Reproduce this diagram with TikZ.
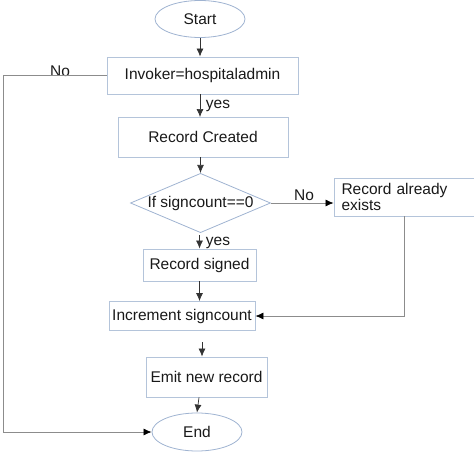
\documentclass[tikz,border=0pt]{standalone}
\usepackage{fontspec}
\setmainfont{Liberation Sans}
\usetikzlibrary{shapes.geometric,arrows.meta}
\definecolor{boxline}{HTML}{B4C4DA}
\definecolor{ellline}{HTML}{9FB3D1}
\definecolor{grayline}{HTML}{8C8C8C}
\tikzset{
  every node/.style={font=\fontsize{15.5}{16.5}\selectfont, text=black!90},
  procbox/.style={draw=boxline, line width=0.8pt, rectangle, inner sep=0pt},
  termell/.style={draw=ellline, line width=0.8pt, ellipse, inner sep=0pt, minimum width=90pt, minimum height=37pt},
  decide/.style={draw=ellline, line width=0.8pt, diamond, inner sep=0pt, aspect=2.36},
  flow/.style={draw=black!80, line width=0.7pt, -{Latex[length=8pt,width=7pt]}},
  grayflow/.style={draw=grayline, line width=0.7pt, -{Latex[length=8pt,width=7pt,color=black]}},
  lbl/.style={inner sep=0pt}
}
\begin{document}
\begin{tikzpicture}[x=1pt,y=-1pt]
\useasboundingbox (0,0) rectangle (474,452);
\node[termell] (start) at (200,19) {Start};
\node[procbox, minimum width=191pt, minimum height=37pt] (inv) at (202.5,75.5) {Invoker=hospitaladmin};
\node[procbox, minimum width=170pt, minimum height=40pt] (rc) at (203,137) {Record Created};
\node[decide] (dia) at (200.5,203) {If signcount==0};
\node[procbox, minimum width=140pt, minimum height=38pt, text width=125pt, align=left] (rae) at (404,197) {Record already\\exists};
\node[procbox, minimum width=113pt, minimum height=32pt] (rs) at (199.5,265) {Record signed};
\node[procbox, minimum width=146pt, minimum height=29pt] (inc) at (182,316) {Increment signcount};
\node[procbox, minimum width=121pt, minimum height=40pt] (emit) at (206.5,377) {Emit new record};
\node[termell, minimum height=38pt] (end) at (197,432) {End};
\coordinate (nl) at (3.5,0);
\node[lbl] (no1) at (60,71) {No};
\node[lbl] (yes1) at (218,106) {yes};
\node[lbl] (no2) at (304,195) {No};
\node[lbl] (yes2) at (218,243) {yes};
\draw[flow] (start.south) -- (start.south |- inv.north);
\draw[flow] (inv.south -| 200,0) -- (200,117);
\draw[flow] (rc.south -| 200.5,0) -- (dia.north);
\draw[grayflow] (dia.east) -- (rae.west |- dia.east);
\draw[flow] (199.5,235) -- (rs.north);
\draw[flow] (rs.south) -- (inc.north -| rs.south);
\draw[grayflow] (rae.south) |- (inc.east);
\draw[flow] (202,342) -- (emit.north -| 202,0);
\draw[flow] (emit.south -| 199,0) -- (end.north);
\draw[grayflow] (inv.west) -- (inv.west -| nl) |- (end.west);
\end{tikzpicture}
\end{document}
